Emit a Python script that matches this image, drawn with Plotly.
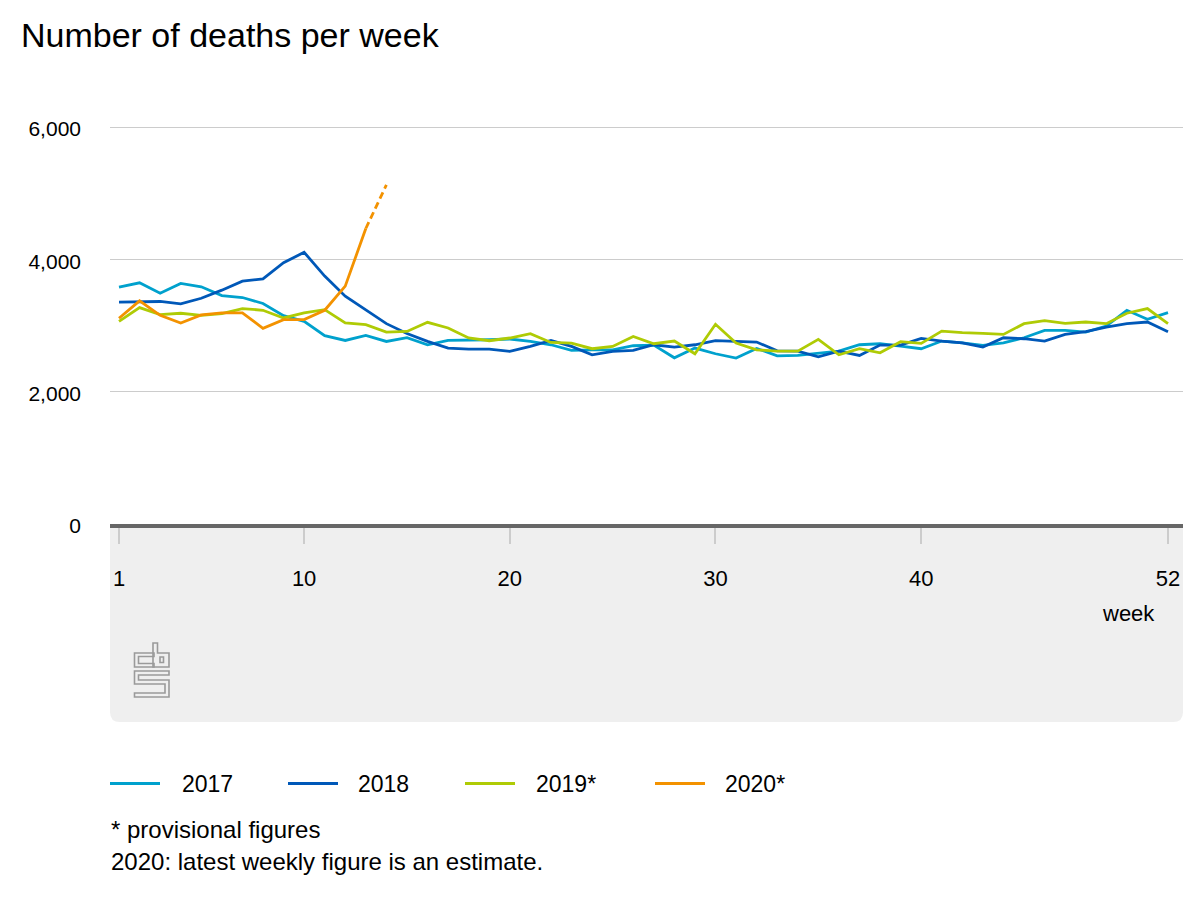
import plotly.graph_objects as go

weeks = list(range(1, 53))
deaths_2017 = [3579, 3646, 3488, 3635, 3585, 3453, 3423, 3332, 3149, 3063,
               2846, 2774, 2850, 2759, 2815, 2709, 2775, 2775, 2785, 2796,
               2760, 2709, 2623, 2633, 2633, 2694, 2704, 2512, 2659, 2573,
               2507, 2654, 2542, 2547, 2577, 2613, 2709, 2724, 2689, 2649,
               2765, 2739, 2699, 2739, 2815, 2927, 2927, 2901, 2992, 3230,
               3094, 3195]
deaths_2018 = [3352, 3360, 3363, 3327, 3412, 3534, 3671, 3706, 3949, 4106,
               3747, 3443, 3230, 3028, 2880, 2760, 2659, 2644, 2644, 2608,
               2684, 2775, 2684, 2557, 2608, 2623, 2709, 2674, 2709, 2770,
               2760, 2750, 2618, 2613, 2527, 2613, 2547, 2704, 2704, 2805,
               2765, 2739, 2673, 2815, 2800, 2765, 2866, 2907, 2977, 3028,
               3053, 2907]
deaths_2019 = [3063, 3271, 3165, 3185, 3154, 3180, 3256, 3230, 3114, 3190,
               3240, 3038, 3013, 2901, 2910, 3048, 2963, 2811, 2770, 2811,
               2876, 2744, 2735, 2649, 2684, 2835, 2725, 2765, 2573, 3018,
               2735, 2633, 2613, 2613, 2790, 2557, 2649, 2588, 2755, 2729,
               2916, 2891, 2881, 2866, 3028, 3073, 3033, 3053, 3028, 3185,
               3256, 3028]
weeks_2020 = list(range(1, 14))
deaths_2020 = [3109, 3372, 3154, 3038, 3160, 3190, 3190, 2957, 3089, 3089,
               3230, 3595, 4466]
weeks_2020_est = [13, 14]
deaths_2020_est = [4466, 5124]

series_names = ["2017", "2018", "2019*", "2020*"]
colors = ["#00a1cd", "#0058b8", "#afcb05", "#f39200"]
x_tickvals = [1, 10, 20, 30, 40, 52]
y_tickvals = [0, 2000, 4000, 6000]

FONT = "Liberation Sans, Arial, Helvetica, sans-serif"
W, H = 1200, 900
L, R, T, B = 110, 1183, 120, 524

def px(x):
    return (x - L) / (R - L)

def py(y):
    return (B - y) / (B - T)

fig = go.Figure()
for name, ys, c in zip(series_names[:3], [deaths_2017, deaths_2018, deaths_2019], colors[:3]):
    fig.add_trace(go.Scatter(x=weeks, y=ys, mode="lines", name=name,
                             line=dict(color=c, width=2.8), showlegend=False))
fig.add_trace(go.Scatter(x=weeks_2020, y=deaths_2020, mode="lines", name=series_names[3],
                         line=dict(color=colors[3], width=2.8), showlegend=False))
fig.add_trace(go.Scatter(x=weeks_2020_est, y=deaths_2020_est, mode="lines", name="2020* (estimate)",
                         line=dict(color=colors[3], width=2.8, dash="7px,4px"), showlegend=False))

# y-axis scale: 0 at px 524, 6000 at px 127
ppu = (524 - 127) / 6000.0
ytop = (B - T) / ppu
# x-axis scale: week 1 at px 119, week 52 at px 1168
ppw = (1168 - 119) / 51.0
xmin = 1 - (119 - L) / ppw
xmax = 52 + (R - 1168) / ppw

shapes = []
# grey panel below axis with rounded bottom corners
rx = 10 / (R - L)
ry = 10 / (B - T)
x0, x1 = px(110), px(1183)
y0, y1 = py(526), py(722)
shapes.append(dict(
    type="path", xref="paper", yref="paper", layer="below",
    path=(f"M {x0},{y0} L {x0},{y1 + ry} Q {x0},{y1} {x0 + rx},{y1} "
          f"L {x1 - rx},{y1} Q {x1},{y1} {x1},{y1 + ry} L {x1},{y0} Z"),
    fillcolor="#efefef", line=dict(width=0)))

# CBS logo outline
def poly(points):
    s = "M " + " L ".join(f"{px(a)},{py(b)}" for a, b in points) + " Z"
    return dict(type="path", xref="paper", yref="paper", path=s,
                line=dict(color="#9a9a9a", width=1.6), fillcolor="rgba(0,0,0,0)")

shapes.append(poly([(154, 653), (134.5, 653), (134.5, 667), (154, 667), (154, 663.5), (138.5, 663.5), (138.5, 656.5), (154, 656.5)]))
shapes.append(poly([(153, 643), (157.5, 643), (157.5, 653), (169, 653), (169, 667), (153, 667)]))
shapes.append(poly([(160, 657), (163.5, 657), (163.5, 662.5), (160, 662.5)]))
shapes.append(poly([(134.5, 671), (169, 671), (169, 675), (138.5, 675), (138.5, 680), (169, 680),
                    (169, 697), (134.5, 697), (134.5, 693), (165, 693), (165, 684), (134.5, 684)]))

annotations = []
annotations.append(dict(text="Number of deaths per week", xref="paper", yref="paper",
                        x=px(19), y=py(35), xanchor="left", yanchor="middle", showarrow=False,
                        font=dict(family=FONT, size=34, color="#000000")))
annotations.append(dict(text="week", xref="paper", yref="paper",
                        x=px(1157), y=py(613), xanchor="right", yanchor="middle", showarrow=False,
                        font=dict(family=FONT, size=22, color="#000000")))

# custom legend
leg_line_x = [110, 288, 465, 655]
leg_text_x = [180, 356, 534, 723]
leg_y = 784
for name, c, lx, tx in zip(series_names, colors, leg_line_x, leg_text_x):
    shapes.append(dict(type="line", xref="paper", yref="paper",
                       x0=px(lx), x1=px(lx + 50), y0=py(leg_y - 0.5), y1=py(leg_y - 0.5),
                       line=dict(color=c, width=3)))
    annotations.append(dict(text=name, xref="paper", yref="paper", x=px(tx), y=py(leg_y),
                            xanchor="left", yanchor="middle", showarrow=False,
                            font=dict(family=FONT, size=23, color="#000000")))

annotations.append(dict(text="* provisional figures", xref="paper", yref="paper",
                        x=px(109), y=py(829), xanchor="left", yanchor="middle", showarrow=False,
                        font=dict(family=FONT, size=24, color="#000000")))
annotations.append(dict(text="2020: latest weekly figure is an estimate.", xref="paper", yref="paper",
                        x=px(109), y=py(861), xanchor="left", yanchor="middle", showarrow=False,
                        font=dict(family=FONT, size=24, color="#000000")))

fig.update_layout(
    width=W, height=H,
    margin=dict(l=L, r=W - R, t=T, b=H - B, pad=0),
    paper_bgcolor="#ffffff", plot_bgcolor="#ffffff",
    font=dict(family=FONT, size=21, color="#000000"),
    shapes=shapes, annotations=annotations,
    xaxis=dict(range=[xmin, xmax], tickvals=x_tickvals, showgrid=False, zeroline=False,
               showline=True, linecolor="#666666", linewidth=3.5,
               ticks="outside", ticklen=16, tickwidth=1.5, tickcolor="#cccccc",
               ticklabelstandoff=16, tickfont=dict(family=FONT, size=22, color="#000000"),
               fixedrange=True),
    yaxis=dict(range=[0, ytop], tickvals=y_tickvals, tickformat=",", showgrid=True,
               gridcolor="#cccccc", gridwidth=1, zeroline=False, showline=False,
               ticks="", ticklabelstandoff=28, ticklabelshift=2,
               tickfont=dict(family=FONT, size=21, color="#000000"), fixedrange=True),
    hovermode=False,
)

fig.write_html("out.html")
